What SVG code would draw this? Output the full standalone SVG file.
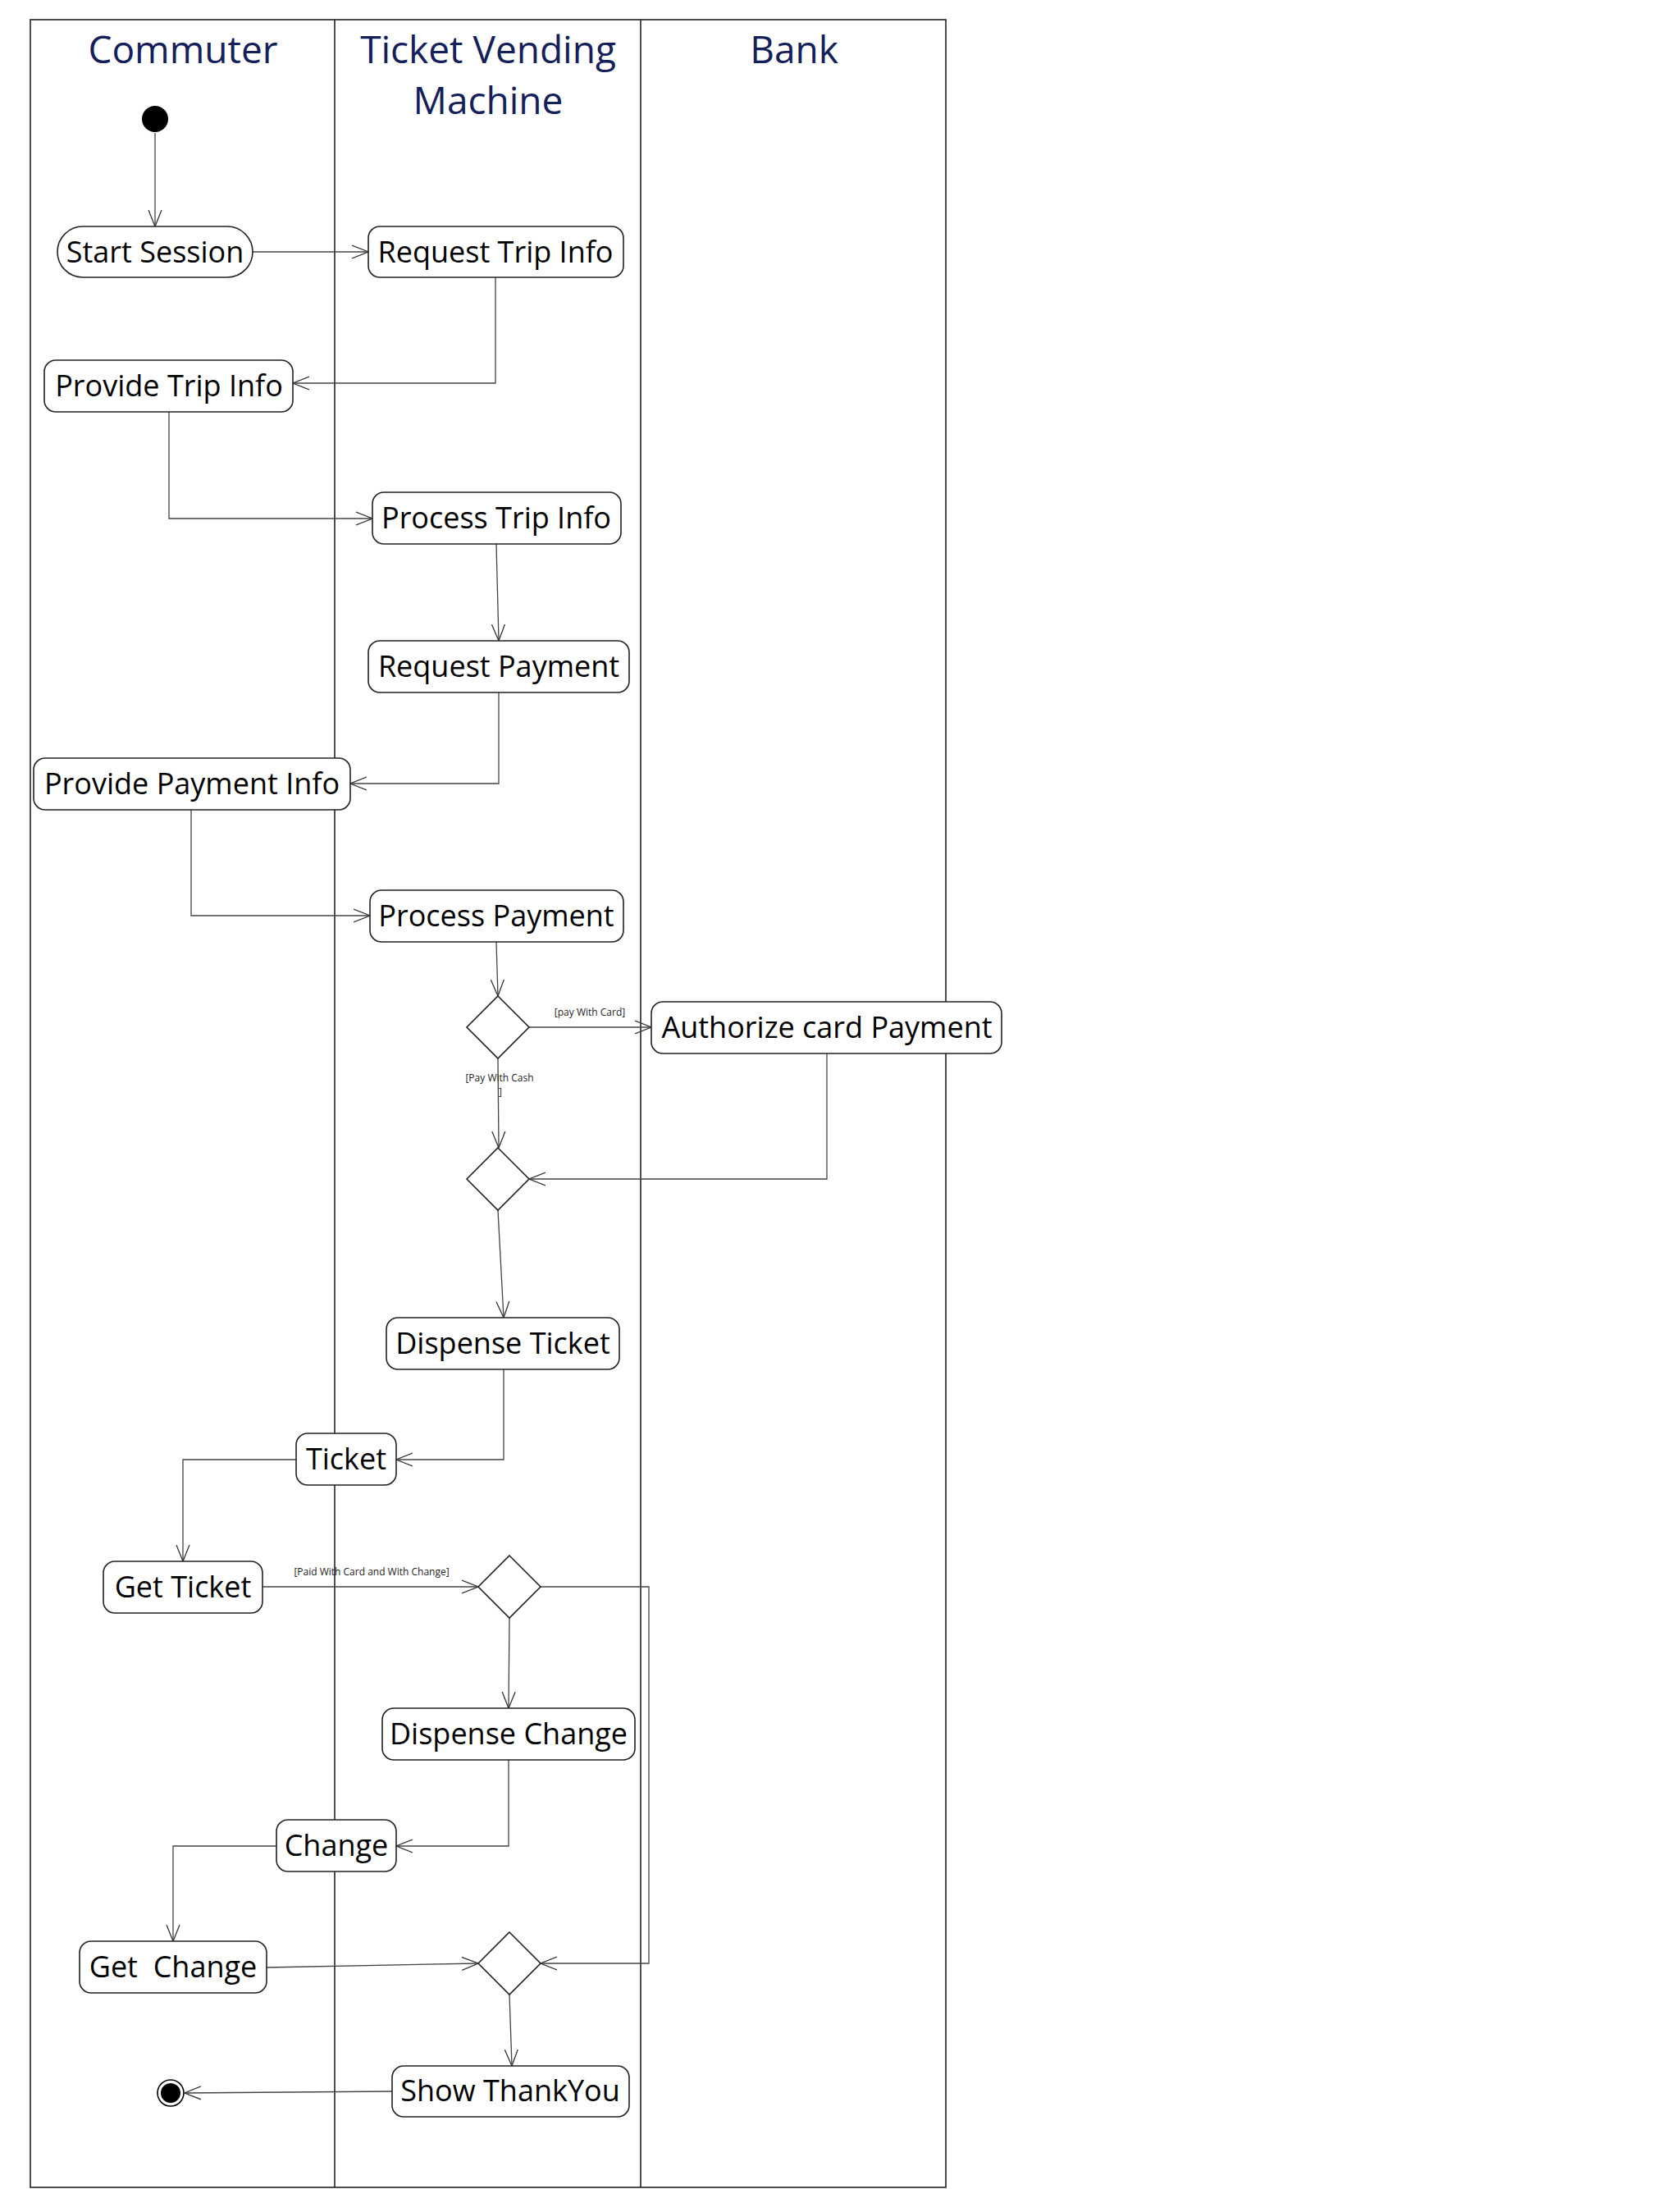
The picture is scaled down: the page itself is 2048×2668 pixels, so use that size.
<svg xmlns="http://www.w3.org/2000/svg" width="2048" height="2668" viewBox="0 0 2048 2668">
<defs>
<marker id="a" viewBox="0 0 20 20" refX="20" refY="10" markerWidth="20" markerHeight="20" markerUnits="userSpaceOnUse" orient="auto"><path d="M0,2 L20,10 L0,18" fill="none" stroke="#333" stroke-width="1.3"/></marker>
</defs>
<style>
.lane{fill:none;stroke:#222;stroke-width:1.6}
.hd{font-family:"Open Sans","Liberation Sans",sans-serif;font-size:46px;fill:#13205a;text-anchor:middle}
.n rect{fill:#fff;stroke:#222;stroke-width:1.6}
.n text{font-family:"Open Sans","Liberation Sans",sans-serif;font-size:36px;fill:#000;text-anchor:middle}
.d{fill:#fff;stroke:#222;stroke-width:1.6}
.c path{fill:none;stroke:#444;stroke-width:1.3;marker-end:url(#a)}
.lb{font-family:"Open Sans","Liberation Sans",sans-serif;font-size:12px;fill:#222;text-anchor:middle}
</style>
<rect width="2048" height="2668" fill="#fff"/>
<g id="lanes">
<rect class="lane" x="37" y="24" width="1116" height="2642"/>
<line class="lane" x1="408" y1="24" x2="408" y2="2666"/>
<line class="lane" x1="781" y1="24" x2="781" y2="2666"/>
<text class="hd" x="223" y="77">Commuter</text>
<text class="hd" x="595" y="77">Ticket Vending</text>
<text class="hd" x="595" y="139">Machine</text>
<text class="hd" x="968" y="77">Bank</text>
</g>
<g class="c" id="connectors">
<path d="M189,162 L189,276"/>
<path d="M308,307 L449,307"/>
<path d="M604,338 L604,467 L357,467"/>
<path d="M206,502 L206,632 L454,632"/>
<path d="M605,663 L608,781"/>
<path d="M608,844 L608,955 L427,955"/>
<path d="M233,987 L233,1116 L451,1116"/>
<path d="M605,1148 L607,1214"/>
<path d="M645,1252 L794,1252"/>
<path d="M607,1290 L608,1399"/>
<path d="M1008,1284 L1008,1437 L645,1437"/>
<path d="M607,1475 L614,1606"/>
<path d="M614,1669 L614,1779 L483,1779"/>
<path d="M361,1779 L223,1779 L223,1903"/>
<path d="M320,1934 L583,1934"/>
<path d="M659,1934 L791,1934 L791,2393 L659,2393"/>
<path d="M621,1972 L620,2082"/>
<path d="M620,2145 L620,2250 L483,2250"/>
<path d="M337,2250 L211,2250 L211,2366"/>
<path d="M325,2398 L583,2393"/>
<path d="M621,2431 L624,2518"/>
<path d="M478,2549 L225,2551"/>
<text class="lb" x="719" y="1238">[pay With Card]</text>
<text class="lb" x="609" y="1318">[Pay With Cash</text>
<text class="lb" x="610" y="1335">]</text>
<text class="lb" x="453" y="1920">[Paid With Card and With Change]</text>
</g>
<g id="start"><circle cx="189" cy="145" r="16" fill="#000"/></g>
<g class="n" id="n1"><rect x="70" y="276" width="238" height="62" rx="31"/><text x="189" y="320">Start Session</text></g>
<g class="n" id="n2"><rect x="449" y="276" width="311" height="62" rx="14"/><text x="604" y="320">Request Trip Info</text></g>
<g class="n" id="n3"><rect x="54" y="439" width="303" height="63" rx="14"/><text x="206" y="483">Provide Trip Info</text></g>
<g class="n" id="n4"><rect x="454" y="600" width="303" height="63" rx="14"/><text x="605" y="644">Process Trip Info</text></g>
<g class="n" id="n5"><rect x="449" y="781" width="318" height="63" rx="14"/><text x="608" y="825">Request Payment</text></g>
<g class="n" id="n6"><rect x="41" y="924" width="386" height="63" rx="14"/><text x="234" y="968">Provide Payment Info</text></g>
<g class="n" id="n7"><rect x="451" y="1085" width="309" height="63" rx="14"/><text x="605" y="1129">Process Payment</text></g>
<g id="d1"><polygon class="d" points="607,1214 645,1252 607,1290 569,1252"/></g>
<g class="n" id="n8"><rect x="794" y="1221" width="427" height="63" rx="14"/><text x="1008" y="1265">Authorize card Payment</text></g>
<g id="d2"><polygon class="d" points="607,1399 645,1437 607,1475 569,1437"/></g>
<g class="n" id="n9"><rect x="471" y="1606" width="284" height="63" rx="14"/><text x="613" y="1650">Dispense Ticket</text></g>
<g class="n" id="n10"><rect x="361" y="1747" width="122" height="63" rx="14"/><text x="422" y="1791">Ticket</text></g>
<g class="n" id="n11"><rect x="126" y="1903" width="194" height="63" rx="14"/><text x="223" y="1947">Get Ticket</text></g>
<g id="d3"><polygon class="d" points="621,1896 659,1934 621,1972 583,1934"/></g>
<g class="n" id="n12"><rect x="466" y="2082" width="308" height="63" rx="14"/><text x="620" y="2126">Dispense Change</text></g>
<g class="n" id="n13"><rect x="337" y="2218" width="146" height="63" rx="14"/><text x="410" y="2262">Change</text></g>
<g class="n" id="n14"><rect x="97" y="2366" width="228" height="63" rx="14"/><text x="211" y="2410" xml:space="preserve">Get  Change</text></g>
<g id="d4"><polygon class="d" points="621,2355 659,2393 621,2431 583,2393"/></g>
<g class="n" id="n15"><rect x="478" y="2518" width="289" height="62" rx="14"/><text x="622" y="2561">Show ThankYou</text></g>
<g id="end"><circle cx="208" cy="2551" r="16" fill="#fff" stroke="#000" stroke-width="1.6"/><circle cx="208" cy="2551" r="12" fill="#000"/></g>
</svg>
